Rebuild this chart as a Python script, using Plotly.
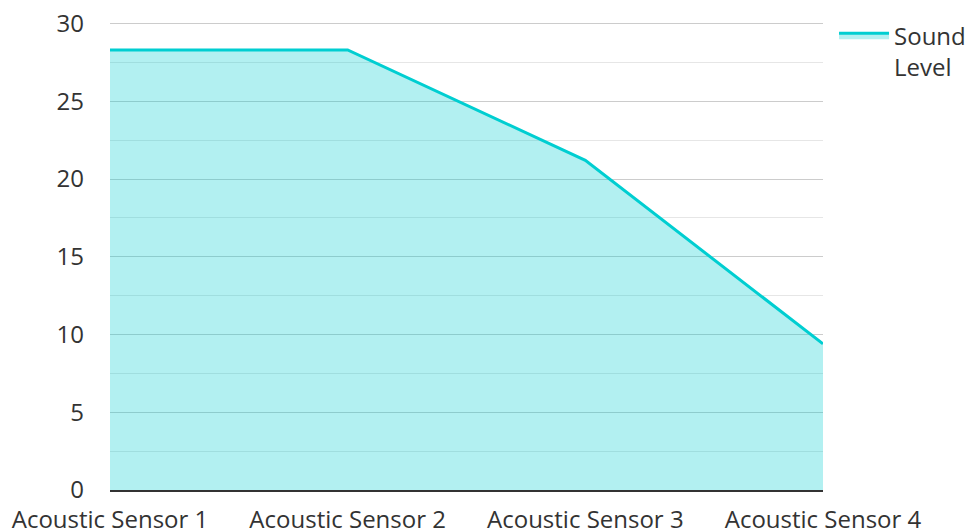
import plotly.graph_objects as go

categories = ["Acoustic Sensor 1", "Acoustic Sensor 2", "Acoustic Sensor 3", "Acoustic Sensor 4"]
sound_level = [28.3, 28.3, 21.2, 9.4]
series_name = "Sound<br>Level"
y_ticks = [0, 5, 10, 15, 20, 25, 30]

fig = go.Figure()
fig.add_trace(go.Scatter(
    x=categories, y=sound_level, name=series_name, mode="lines",
    line=dict(color="#00CED1", width=3),
    fill="tozeroy", fillcolor="rgba(0,206,209,0.3)",
))

fig.update_layout(
    width=965, height=523,
    margin=dict(l=102, r=150, t=14, b=41),
    paper_bgcolor="white", plot_bgcolor="white",
    font=dict(family="Open Sans", size=24, color="#333333"),
    showlegend=True,
    legend=dict(xref="container", yref="container", x=0.856, y=0.99,
                xanchor="left", yanchor="top", valign="top",
                itemwidth=50,
                font=dict(size=24, color="#333333"), bgcolor="rgba(0,0,0,0)"),
    xaxis=dict(type="category", range=[0, 3], showgrid=False, showline=True,
               linecolor="#333333", linewidth=2, ticks="", tickfont=dict(size=24),
               zeroline=False, automargin=False, ticklabelstandoff=7),
    yaxis=dict(range=[0, 30.1], tickmode="array", tickvals=y_ticks,
               showgrid=True, gridcolor="#cccccc",
               gridwidth=1, zeroline=False, showline=False, ticks="",
               tickfont=dict(size=24), ticklabelstandoff=25, automargin=False,
               ticklabeloverflow="allow",
               minor=dict(dtick=2.5, tick0=0, showgrid=True, gridcolor="#e6e6e6", gridwidth=1)),
)

fig.write_html("out.html")
